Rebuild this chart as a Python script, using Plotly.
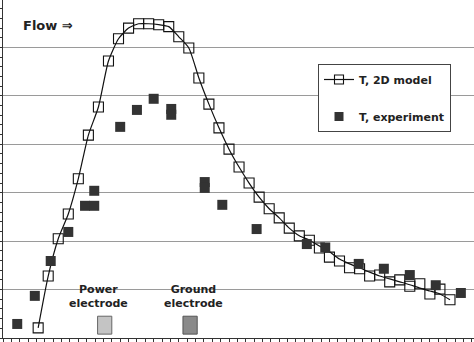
import plotly.graph_objects as go

# Axial position (mm) of the computed points
model_x = [4.2, 5.4, 6.6, 7.8, 9.0, 10.2, 11.4, 12.6, 13.8, 15.0, 16.2, 17.4, 18.6, 19.8,
           21.0, 22.2, 23.4, 24.6, 25.8, 27.0, 28.2, 29.4, 30.6, 31.8, 33.0, 34.2, 35.4,
           36.6, 37.8, 39.0, 40.2, 41.4, 42.6, 43.8, 45.0, 46.2, 47.4, 48.6, 49.8, 51.0,
           52.2, 53.4]
# Temperature from the 2D model at those points
model_t = [2.1, 12.8, 20.5, 25.6, 32.9, 41.9, 47.7, 57.2, 61.8, 64.0, 64.9, 64.9, 64.7, 64.3,
           62.2, 59.9, 53.7, 48.3, 43.4, 39.0, 35.3, 32.0, 29.1, 26.7, 24.8, 22.7, 21.1,
           20.2, 18.6, 16.7, 15.9, 14.5, 14.3, 12.8, 13.0, 11.6, 12.0, 10.7, 11.2, 9.1,
           10.1, 7.9]
# Smoothed model curve
model_curve = [2.1, 12.8, 20.5, 25.6, 32.9, 41.9, 47.7, 57.2, 61.8, 64.0, 64.9, 64.9, 64.7, 64.3,
               62.2, 59.9, 53.7, 48.3, 43.4, 39.0, 35.3, 32.0, 29.1, 26.7, 24.8, 22.7, 21.1,
               20.2, 19.0, 17.8, 16.3, 15.3, 14.5, 13.6, 12.8, 12.2, 11.6, 11.0, 10.3, 9.7,
               9.1, 7.9]

# Measured temperature
exp_x = [1.7, 3.8, 5.7, 7.8, 9.8, 10.9, 10.9, 14.0, 16.0, 18.0, 20.1, 20.1, 24.1, 24.1,
         26.2, 30.3, 36.3, 38.5, 42.5, 45.5, 48.6, 51.7, 54.7]
exp_t = [2.9, 8.7, 15.9, 21.9, 27.3, 27.3, 30.4, 43.6, 47.1, 49.4, 47.3, 46.1, 32.2, 31.0,
         27.5, 22.5, 19.4, 18.7, 15.3, 14.3, 13.0, 10.9, 9.3]

ink = "#111111"
fig = go.Figure()

fig.add_trace(go.Scatter(x=model_x, y=model_curve, mode="lines",
                         line=dict(color=ink, width=1.2, shape="spline", smoothing=0.6),
                         showlegend=False, hoverinfo="skip"))
fig.add_trace(go.Scatter(x=model_x, y=model_t, mode="markers",
                         marker=dict(symbol="square-open", size=10, color=ink,
                                     line=dict(color=ink, width=1.1)),
                         showlegend=False))
fig.add_trace(go.Scatter(x=exp_x, y=exp_t, mode="markers",
                         marker=dict(symbol="square", size=10, color="#333333",
                                     line=dict(width=0)),
                         showlegend=False))

# Legend entries
fig.add_trace(go.Scatter(x=[None], y=[None], mode="lines+markers", name="<b>T, 2D model</b>",
                         line=dict(color=ink, width=1.2),
                         marker=dict(symbol="square-open", size=9, color=ink,
                                     line=dict(color=ink, width=1.1)),
                         legendgroup="a"))
fig.add_trace(go.Scatter(x=[None], y=[None], mode="markers", name="<b>T, experiment</b>",
                         marker=dict(symbol="square", size=9, color="#333333"),
                         legendgroup="b"))

bold = "DejaVu Sans"
fig.add_annotation(text="<b>Flow ⇒</b>", xref="paper", yref="paper",
                   x=(21 - 3) / 471, y=(338 - 25) / 338, xanchor="left", yanchor="middle",
                   showarrow=False, font=dict(family=bold, size=13, color="#222222"))
fig.add_annotation(text="<b>Power<br>electrode</b>", x=11.4, y=8.6, xanchor="center",
                   yanchor="middle", showarrow=False,
                   font=dict(family=bold, size=11, color="#222222"))
fig.add_annotation(text="<b>Ground<br>electrode</b>", x=22.8, y=8.6, xanchor="center",
                   yanchor="middle", showarrow=False,
                   font=dict(family=bold, size=11, color="#222222"))

# Electrode blocks
fig.add_shape(type="rect", x0=11.3, x1=13.0, y0=0.8, y1=4.5,
              fillcolor="#c4c4c4", line=dict(color="#666666", width=1))
fig.add_shape(type="rect", x0=21.5, x1=23.2, y0=0.8, y1=4.5,
              fillcolor="#8a8a8a", line=dict(color="#555555", width=1))

fig.update_layout(
    width=474, height=342,
    margin=dict(l=3, r=0, t=0, b=4),
    plot_bgcolor="white", paper_bgcolor="white",
    legend=dict(x=(318 - 3) / 471, y=(338 - 64) / 338, xanchor="left", yanchor="top",
                bgcolor="white", bordercolor="#444444", borderwidth=1,
                font=dict(family=bold, size=11, color="#222222"),
                traceorder="grouped", tracegroupgap=18, itemwidth=30),
    xaxis=dict(range=[0, 56.27], showgrid=False, zeroline=False, showline=True,
               linecolor="#333333", linewidth=1, ticks="outside", ticklen=4,
               tickcolor="#333333", dtick=1, tick0=0, showticklabels=False),
    yaxis=dict(range=[0, 69.8], showgrid=True, gridcolor="#9a9a9a", gridwidth=1,
               zeroline=False, showline=True, linecolor="#333333", linewidth=1,
               ticks="outside", ticklen=3, tickcolor="#333333", dtick=10, tick0=0,
               showticklabels=False,
               minor=dict(dtick=2, ticks="outside", ticklen=3, tickcolor="#333333",
                          showgrid=False)),
)

fig.write_html("out.html")
